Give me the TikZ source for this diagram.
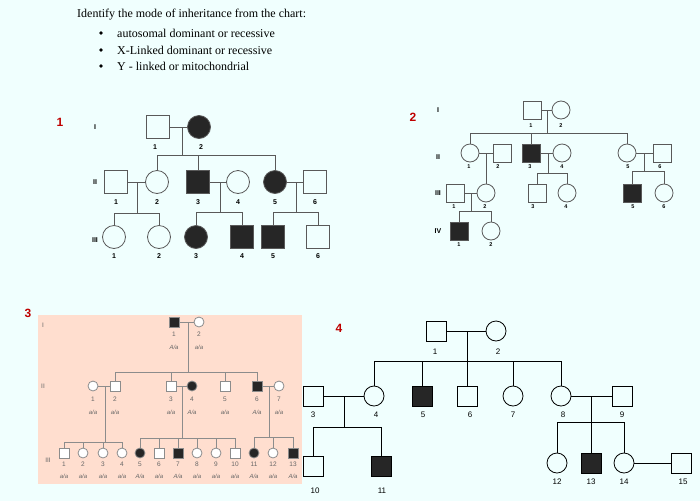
\documentclass[tikz,border=0pt]{standalone}
\usepackage{fontspec}
\setmainfont{Liberation Serif}
\newfontfamily\lab{Liberation Sans}
\begin{document}
\begin{tikzpicture}[x=1pt,y=-1pt,
  M/.style={draw=#1,rectangle,inner sep=0pt,line width=0.8pt},
  F/.style={draw=#1,circle,inner sep=0pt,line width=0.8pt},
  aff/.style={fill=black!85},
  ln/.style={draw=#1,line width=0.8pt},
  num/.style={font=\lab\bfseries\fontsize{7}{8}\selectfont,inner sep=0pt},
  gen/.style={font=\lab\bfseries\fontsize{7}{8}\selectfont,inner sep=0pt},
  red/.style={font=\lab\bfseries\fontsize{12}{12}\selectfont,text=red!75!black,inner sep=0pt},
  gt/.style={font=\lab\itshape\fontsize{6}{7}\selectfont,text=black!60,inner sep=0pt},
  nb/.style={font=\lab\fontsize{6.5}{7}\selectfont,text=black!60,inner sep=0pt},
  n4/.style={font=\lab\fontsize{8}{9}\selectfont,inner sep=0pt},
  hd/.style={anchor=west,inner sep=0pt,font=\fontsize{12}{14}\selectfont}]
\useasboundingbox (0,0) rectangle (700,501);
\fill[green!4!cyan!6!white] (0,0) rectangle (700,501);
% header
\node[hd] (h0) at (77,15) {Identify the mode of inheritance from the chart:};
\foreach \y/\t [count=\i] in {33/autosomal dominant or recessive,50/X-Linked dominant or recessive,66/Y - linked or mitochondrial}{
  \node[circle,fill=black,inner sep=1.4pt] (b\i) at (101,\y) {};
  \node[hd] (t\i) at (117,\y) {\t};}
% ===== pedigree 1 =====
\def\c{black!65}
\node[red] (r1) at (60,122) {1};
\node[gen] (g1a) at (95,127) {I};
\node[gen] (g1b) at (95,182) {II};
\node[gen] (g1c) at (95,240) {III};
\begin{scope}[every node/.append style={minimum size=23pt}]
\node[M=\c] (aI1) at (158,127) {};
\node[F=\c,aff] (aI2) at (199,127) {};
\node[M=\c] (aII1) at (116,182) {};
\node[F=\c] (aII2) at (157,182) {};
\node[M=\c,aff] (aII3) at (198,182) {};
\node[F=\c] (aII4) at (238,182) {};
\node[F=\c,aff] (aII5) at (275,182) {};
\node[M=\c] (aII6) at (315,182) {};
\node[F=\c] (aIII1) at (114,237) {};
\node[F=\c] (aIII2) at (159,237) {};
\node[F=\c,aff] (aIII3) at (196,237) {};
\node[M=\c,aff] (aIII4) at (242,237) {};
\node[M=\c,aff] (aIII5) at (273,237) {};
\node[M=\c] (aIII6) at (318,237) {};
\end{scope}
\foreach \n/\x/\y/\t in {I1/155/147/1,I2/201/147/2,II1/116/202/1,II2/157/202/2,II3/198/202/3,II4/238/202/4,II5/275/202/5,II6/315/202/6,III1/114/256/1,III2/159/256/2,III3/196/256/3,III4/242/256/4,III5/273/256/5,III6/318/256/6}{
  \node[num] (la\n) at (\x,\y) {\t};}
\draw[ln=\c] (aI1) -- (aI2) (aII1) -- (aII2) (aII3) -- (aII4) (aII5) -- (aII6);
\coordinate (s1) at (182,155);
\draw[ln=\c] (s1|-aI1) -- (s1);
\draw[ln=\c] (aII2.north) -- (aII2.north|-s1) -- (aII5.north|-s1) -- (aII5.north);
\draw[ln=\c] (aII3.north) -- (aII3.north|-s1);
\coordinate (s2) at (137,213);
\draw[ln=\c] (s2|-aII1) -- (s2);
\draw[ln=\c] (aIII1.north) -- (aIII1.north|-s2) -- (aIII2.north|-s2) -- (aIII2.north);
\coordinate (s3) at (220,212);
\draw[ln=\c] (s3|-aII3) -- (s3);
\draw[ln=\c] (aIII3.north) -- (aIII3.north|-s3) -- (aIII4.north|-s3) -- (aIII4.north);
\coordinate (s4) at (296,212);
\draw[ln=\c] (s4|-aII5) -- (s4);
\draw[ln=\c] (aIII5.north) -- (aIII5.north|-s4) -- (aIII6.north|-s4) -- (aIII6.north);
% ===== pedigree 2 =====
\node[red] (r2) at (413,117) {2};
\node[gen] (g2a) at (438,110) {I};
\node[gen] (g2b) at (438,157) {II};
\node[gen] (g2c) at (438,193) {III};
\node[gen] (g2d) at (438,231) {IV};
\begin{scope}[every node/.append style={minimum size=18pt}]
\node[M=\c] (bI1) at (532,110) {};
\node[F=\c] (bI2) at (561,110) {};
\node[F=\c] (bII1) at (470,153) {};
\node[M=\c] (bII2) at (502,153) {};
\node[M=\c,aff] (bII3) at (531,153) {};
\node[F=\c] (bII4) at (562,153) {};
\node[F=\c] (bII5) at (627,153) {};
\node[M=\c] (bII6) at (662,153) {};
\node[M=\c] (bIII1) at (455,193) {};
\node[F=\c] (bIII2) at (486,193) {};
\node[M=\c] (bIII3) at (537,193) {};
\node[F=\c] (bIII4) at (567,193) {};
\node[M=\c,aff] (bIII5) at (632,193) {};
\node[F=\c] (bIII6) at (664,193) {};
\node[M=\c,aff] (bIV1) at (459,231) {};
\node[F=\c] (bIV2) at (491,231) {};
\end{scope}
\foreach \n/\x/\y/\t in {I1/531/126/1,I2/561/126/2,II1/469/167/1,II2/498/167/2,II3/530/167/3,II4/562/167/4,II5/628/167/5,II6/660/167/6,III1/454/207/1,III2/485/207/2,III3/533/207/3,III4/566/207/4,III5/633/207/5,III6/664/207/6,IV1/459/245/1,IV2/491/245/2}{
  \node[num,font=\lab\bfseries\fontsize{5.5}{6}\selectfont] (lb\n) at (\x,\y) {\t};}
\draw[ln=\c] (bI1) -- (bI2) (bII1) -- (bII2) (bII3) -- (bII4) (bII5) -- (bII6) (bIII1) -- (bIII2);
\coordinate (t1) at (547,133);
\draw[ln=\c] (t1|-bI1) -- (t1);
\draw[ln=\c] (bII1.north) -- (bII1.north|-t1) -- (bII5.north|-t1) -- (bII5.north);
\draw[ln=\c] (bII3.north) -- (bII3.north|-t1);
\draw[ln=\c] (bIII2.north|-bII1) -- (bIII2.north);
\coordinate (t2) at (548,173);
\draw[ln=\c] (t2|-bII3) -- (t2);
\draw[ln=\c] (bIII3.north) -- (bIII3.north|-t2) -- (bIII4.north|-t2) -- (bIII4.north);
\coordinate (t3) at (644,171);
\draw[ln=\c] (t3|-bII5) -- (t3);
\draw[ln=\c] (bIII5.north) -- (bIII5.north|-t3) -- (bIII6.north|-t3) -- (bIII6.north);
\coordinate (t4) at (471,211);
\draw[ln=\c] (t4|-bIII1) -- (t4);
\draw[ln=\c] (bIV1.north) -- (bIV1.north|-t4) -- (bIV2.north|-t4) -- (bIV2.north);
% ===== pedigree 3 =====
\fill[orange!30!pink!40!white] (38,315) rectangle (302,484);
\node[red] (r3) at (28,313) {3};
\def\d{black!45}
\node[nb] (g3a) at (43,325) {I};
\node[nb] (g3b) at (43,386) {II};
\node[nb] (g3c) at (48,460) {III};
\begin{scope}[every node/.append style={minimum size=10pt,line width=0.5pt,fill=white}]
\node[M=\d,aff] (cI1) at (174,322) {};
\node[F=\d] (cI2) at (199,322) {};
\node[F=\d] (cII1) at (93,386) {};
\node[M=\d] (cII2) at (115,386) {};
\node[M=\d] (cII3) at (171,386) {};
\node[F=\d,aff] (cII4) at (192,386) {};
\node[M=\d] (cII5) at (225,386) {};
\node[M=\d,aff] (cII6) at (257,386) {};
\node[F=\d] (cII7) at (279,386) {};
\foreach \i/\x/\s/\a in {1/64/M/0,2/83/F/0,3/103/F/0,4/122/F/0,5/140/F/1,6/159/M/0,7/178/M/1,8/197/F/0,9/216/F/0,10/235/M/0,11/254/F/1,12/273/F/0,13/293/M/1}{
  \ifnum\a=1 \node[\s=\d,aff] (cIII\i) at (\x,453) {};\else\node[\s=\d] (cIII\i) at (\x,453) {};\fi}
\end{scope}
\foreach \n/\x/\y/\t/\g in {I1/174/334/1/{A/a},I2/199/334/2/{a/a},II1/93/399/1/{a/a},II2/115/399/2/{a/a},II3/171/399/3/{a/a},II4/192/399/4/{A/a},II5/225/399/5/{a/a},II6/257/399/6/{A/a},II7/279/399/7/{a/a}}{
  \node[nb] (ln\n) at (\x,\y) {\t};
  \node[gt] (lg\n) at (\x,\y+13) {\g};}
\foreach \i/\x/\g in {1/64/{a/a},2/83/{a/a},3/103/{a/a},4/122/{a/a},5/140/{A/a},6/159/{a/a},7/178/{A/a},8/197/{a/a},9/216/{a/a},10/235/{a/a},11/254/{A/a},12/273/{a/a},13/293/{A/a}}{
  \node[nb] (lnIII\i) at (\x,464) {\i};
  \node[gt] (lgIII\i) at (\x,476) {\g};}
\draw[ln=\d,line width=0.5pt] (cI1) -- (cI2) (cII1) -- (cII2) (cII3) -- (cII4) (cII6) -- (cII7);
\coordinate (u1) at (188,372);
\draw[ln=\d,line width=0.5pt] (u1|-cI1) -- (u1);
\draw[ln=\d,line width=0.5pt] (cII2.north) -- (cII2.north|-u1) -- (cII6.north|-u1) -- (cII6.north);
\foreach \k in {cII3,cII5}{\draw[ln=\d,line width=0.5pt] (\k.north) -- (\k.north|-u1);}
\coordinate (u2) at (105,442);
\draw[ln=\d,line width=0.5pt] (u2|-cII1) -- (u2);
\draw[ln=\d,line width=0.5pt] (cIII1.north) -- (cIII1.north|-u2) -- (cIII4.north|-u2) -- (cIII4.north);
\foreach \k in {2,3}{\draw[ln=\d,line width=0.5pt] (cIII\k.north) -- (cIII\k.north|-u2);}
\coordinate (u3) at (182,438);
\draw[ln=\d,line width=0.5pt] (u3|-cII3) -- (u3);
\draw[ln=\d,line width=0.5pt] (cIII5.north) -- (cIII5.north|-u3) -- (cIII10.north|-u3) -- (cIII10.north);
\foreach \k in {6,7,8,9}{\draw[ln=\d,line width=0.5pt] (cIII\k.north) -- (cIII\k.north|-u3);}
\coordinate (u4) at (269,437);
\draw[ln=\d,line width=0.5pt] (u4|-cII6) -- (u4);
\draw[ln=\d,line width=0.5pt] (cIII11.north) -- (cIII11.north|-u4) -- (cIII13.north|-u4) -- (cIII13.north);
\draw[ln=\d,line width=0.5pt] (cIII12.north) -- (cIII12.north|-u4);
% ===== pedigree 4 =====
\node[red] (r4) at (339,328) {4};
\begin{scope}[every node/.append style={minimum size=20pt,line width=1pt}]
\node[M=black] (dI1) at (436,331) {};
\node[F=black] (dI2) at (496,331) {};
\node[M=black] (dII3) at (313,396) {};
\node[F=black] (dII4) at (374,396) {};
\node[M=black,aff] (dII5) at (422,396) {};
\node[M=black] (dII6) at (467,396) {};
\node[F=black] (dII7) at (513,396) {};
\node[F=black] (dII8) at (561,396) {};
\node[M=black] (dII9) at (622,396) {};
\node[M=black] (dIII10) at (313,466) {};
\node[M=black,aff] (dIII11) at (381,466) {};
\node[F=black] (dIII12) at (557,463) {};
\node[M=black,aff] (dIII13) at (591,463) {};
\node[F=black] (dIII14) at (624,463) {};
\node[M=black] (dIII15) at (681,463) {};
\end{scope}
\foreach \n/\x/\y/\t in {I1/435/352/1,I2/498/352/2,II3/313/415/3,II4/376/415/4,II5/423/415/5,II6/470/415/6,II7/513/415/7,II8/563/415/8,II9/622/415/9,III10/315/491/10,III11/382/491/11,III12/557/482/12,III13/591/482/13,III14/624/482/14,III15/683/482/15}{
  \node[n4] (ld\n) at (\x,\y) {\t};}
\draw[line width=1pt] (dI1) -- (dI2) (dII3) -- (dII4) (dII8) -- (dII9) (dIII14) -- (dIII15);
\coordinate (v1) at (467,361);
\draw[line width=1pt] (v1|-dI1) -- (v1);
\draw[line width=1pt] (dII4.north) -- (dII4.north|-v1) -- (dII8.north|-v1) -- (dII8.north);
\foreach \k in {dII5,dII6,dII7}{\draw[line width=1pt] (\k.north) -- (\k.north|-v1);}
\coordinate (v2) at (344,427);
\draw[line width=1pt] (v2|-dII3) -- (v2);
\draw[line width=1pt] (dIII10.north) -- (dIII10.north|-v2) -- (dIII11.north|-v2) -- (dIII11.north);
\coordinate (v3) at (591,422);
\draw[line width=1pt] (v3|-dII8) -- (v3);
\draw[line width=1pt] (dIII12.north) -- (dIII12.north|-v3) -- (dIII14.north|-v3) -- (dIII14.north);
\draw[line width=1pt] (dIII13.north) -- (dIII13.north|-v3);
\end{tikzpicture}
\end{document}
